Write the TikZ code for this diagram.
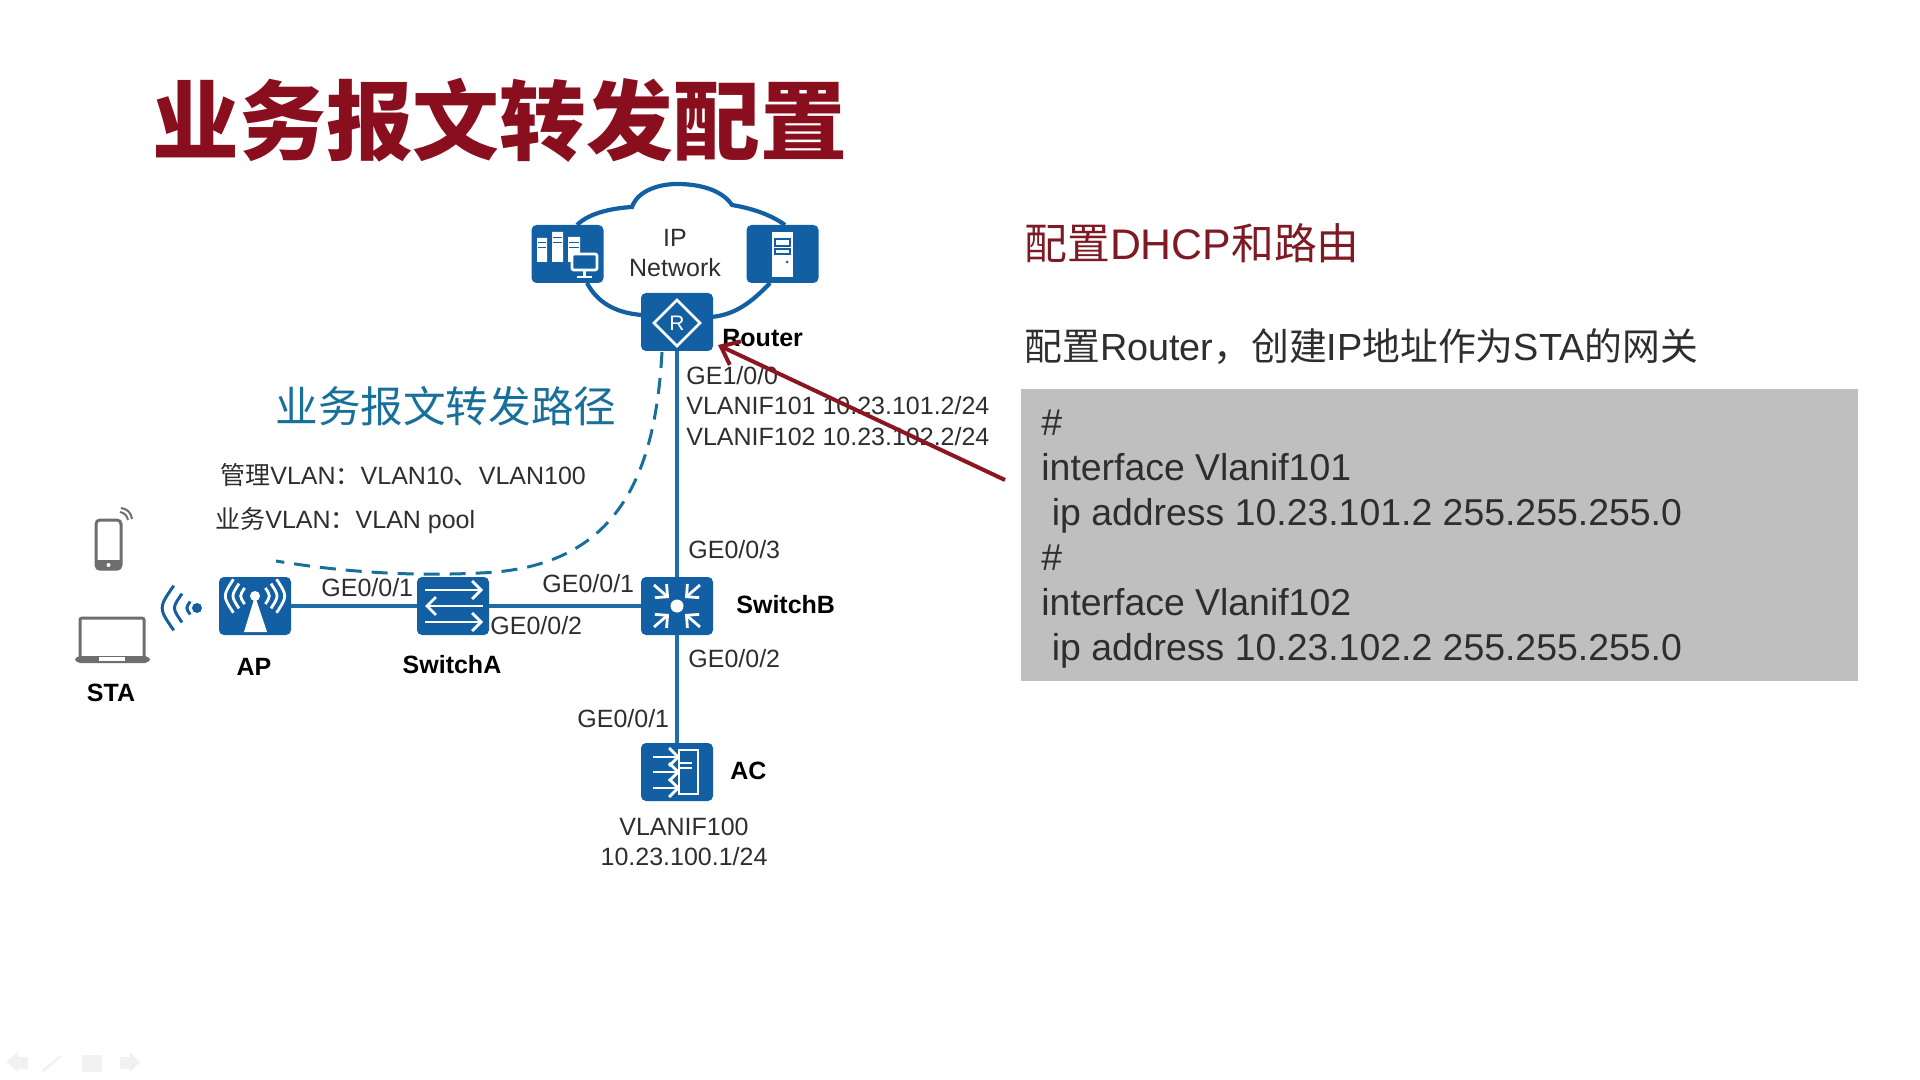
\documentclass[tikz,border=0pt]{standalone}
\usepackage{fontspec}
\setmainfont{Liberation Sans}
\newfontfamily\cjk{Noto Sans CJK SC}
\usepackage{xcolor}
\usepackage{tikz}
\usetikzlibrary{arrows.meta, positioning, fit}
\definecolor{devblue}{HTML}{125FA3}
\definecolor{linkblue}{HTML}{1F6EAA}
\definecolor{pathteal}{HTML}{17709A}
\definecolor{titlered}{HTML}{8A0F1E}
\definecolor{headred}{HTML}{7D1A24}
\definecolor{arrowred}{HTML}{8B1520}
\definecolor{codegrey}{HTML}{BFBFBF}
\definecolor{icongrey}{HTML}{6E6E6E}
\definecolor{textgrey}{HTML}{2E2E2E}
\definecolor{navgrey}{HTML}{F1F1F1}

\begin{document}
\begin{tikzpicture}[x=0.5pt, y=-0.5pt,
    devbox/.style={rectangle, rounded corners=2.5pt, fill=devblue, minimum width=36pt, minimum height=29pt, inner sep=0pt},
    link/.style={draw=linkblue, line width=1.8pt},
    cloudline/.style={draw=devblue, line width=2.1pt},
    whiteline/.style={draw=white, line width=1.4pt},
    whitearrow/.style={whiteline, -{Straight Barb[length=4.5pt, width=9pt]}},
    phoneline/.style={draw=icongrey, line width=1.5pt},
    label/.style={anchor=west, inner sep=0pt, text=textgrey, font=\fontsize{12.5}{15}\selectfont},
    midlabel/.style={label, anchor=center, align=center},
    devlabel/.style={label, text=black, font=\fontsize{12.5}{15}\selectfont\bfseries}
]
\useasboundingbox (0,0) rectangle (1920,1080);

\node[anchor=west, inner sep=0pt, text=titlered, font=\fontsize{43.4}{50}\selectfont\cjk\bfseries] (title) at (152,120) {业务报文转发配置};

\draw[cloudline] (577,225) .. controls (590,212) and (615,208) .. (632,207) .. controls (638,190) and (660,184) .. (677,184) .. controls (700,184) and (722,190) .. (732,205) .. controls (750,208) and (770,214) .. (785,225);
\draw[cloudline] (587,283) .. controls (597,302) and (615,313) .. (642,315);
\draw[cloudline] (711,317) .. controls (735,315) and (752,302) .. (770,283);

\node[devbox] (serverl) at (567.5,254) {};
\node[devbox] (serverr) at (782.5,254) {};
\node[devbox] (router) at (677,322) {};
\node[devbox] (ap) at (255,606) {};
\node[devbox] (switcha) at (453,606) {};
\node[devbox] (switchb) at (677,606) {};
\node[devbox] (ac) at (677,772) {};

\draw[link] (router) -- (switchb);
\draw[link] (ap) -- (switcha);
\draw[link] (switcha) -- (switchb);
\draw[link] (switchb) -- (ac);

\fill[white] (537,238) rectangle (547,262) (552,232) rectangle (563,262) (568,237) rectangle (580,262);
\draw[devblue, line width=0.5pt] (538,243) -- (546,243) (538,248) -- (546,248) (553,238) -- (562,238) (553,243) -- (562,243) (569,243) -- (579,243) (569,248) -- (579,248);
\draw[whiteline, fill=devblue, rounded corners=1pt] (572,254) rectangle (597,270);
\draw[whiteline] (584.5,270) -- (584.5,277) (577,277) -- (592,277);
\fill[white] (772,232) rectangle (793,277);
\draw[devblue, line width=0.8pt] (775,239) rectangle (790,246) (775,249) rectangle (790,254);
\fill[devblue] (787,262) circle[radius=1.5];

\draw[whiteline] (677,300) -- (700,323) -- (677,346) -- (654,323) -- cycle;
\node[inner sep=0pt, text=white, font=\fontsize{10.5}{12}\selectfont] (routerr) at (677,323) {R};

\foreach \d in {13,20,27}{
  \draw[whiteline] ({255-\d*.8},{596-\d*.62}) .. controls ({255-\d*1.2},596) .. ({255-\d*.8},{596+\d*.62});
  \draw[whiteline] ({255+\d*.8},{596-\d*.62}) .. controls ({255+\d*1.2},596) .. ({255+\d*.8},{596+\d*.62});
}
\fill[white] (255,596) circle[radius=5];
\fill[white] (255,596) -- (267,632) -- (244,632) -- cycle;

\fill[devblue] (197,608) circle[radius=5];
\foreach \d in {9,20,31}{
  \draw[devblue, line width=1.5pt] ({197-\d*.75},{608-\d*.72}) .. controls ({197-\d*1.25},608) .. ({197-\d*.75},{608+\d*.72});
}

\draw[whitearrow] (425,590) -- (483,590);
\draw[whitearrow] (483,606) -- (425,606);
\draw[whitearrow] (425,622) -- (483,622);

\fill[white] (677,606) circle[radius=6.5];
\draw[whitearrow] (654,585) -- (669,598);
\draw[whitearrow] (700,585) -- (685,598);
\draw[whitearrow] (654,627) -- (669,614);
\draw[whitearrow] (700,627) -- (685,614);

\draw[whiteline] (679,750) -- (698,750) -- (698,794) -- (679,794) -- cycle;
\draw[whitearrow] (653,757) -- (680,757);
\draw[whitearrow] (653,772) -- (680,772);
\draw[whitearrow] (653,788) -- (680,788);
\draw[whiteline, line width=1pt] (680,763) -- (692,763) (680,768) -- (692,768);

\draw[phoneline, fill=white, rounded corners=2pt] (96,520) rectangle (121,569);
\fill[icongrey, rounded corners=1pt] (96,560) rectangle (121,570);
\fill[white] (108.5,565) circle[radius=2];
\draw[icongrey, line width=1pt] (120,512) .. controls (125,513) and (127,516) .. (128,520);
\draw[icongrey, line width=1pt] (121,508) .. controls (128,509) and (131,513) .. (132,519);

\draw[phoneline, rounded corners=1pt] (80,658) -- (80,618) -- (144,618) -- (144,658);
\fill[icongrey, rounded corners=2.5pt] (75,656) rectangle (150,663);
\fill[white] (99,657) rectangle (125,661);

\node[label] (ge100) at (686,376) {GE1/0/0};
\node[label] (vlanif101) at (686,406) {VLANIF101 10.23.101.2/24};
\node[label] (vlanif102) at (686,437) {VLANIF102 10.23.102.2/24};
\node[midlabel] (ipnet) at (675,253) {IP\\Network};
\node[devlabel] (routername) at (722,338) {Router};
\node[label] (gesb3) at (688,550) {GE0/0/3};
\node[label] (geap) at (321,588) {GE0/0/1};
\node[label] (gesb1) at (542,584) {GE0/0/1};
\node[label] (gesa2) at (490,626) {GE0/0/2};
\node[devlabel] (sbname) at (736,605) {SwitchB};
\node[label] (gesb2) at (688,659) {GE0/0/2};
\node[label] (geac) at (577,719) {GE0/0/1};
\node[devlabel] (acname) at (730,771) {AC};
\node[midlabel] (acip) at (684,842) {VLANIF100\\10.23.100.1/24};
\node[devlabel, anchor=center] (apname) at (254,667) {AP};
\node[devlabel, anchor=center] (saname) at (452,665) {SwitchA};
\node[devlabel, anchor=center] (staname) at (111,693) {STA};

\node[label] (mgmt) at (220,475) {{\cjk 管理}VLAN{\cjk ：}VLAN10{\cjk 、}VLAN100};
\node[label] (svc) at (215,521) {{\cjk 业务}VLAN{\cjk ：}VLAN pool};
\node[anchor=west, inner sep=0pt, text=pathteal, font=\fontsize{21.3}{25}\selectfont\cjk] (pathname) at (275,406) {业务报文转发路径};

\node[anchor=west, inner sep=0pt, text=headred, font=\fontsize{21.4}{26}\selectfont] (dhcphead) at (1024,243) {{\cjk 配置}DHCP{\cjk 和路由}};
\node[anchor=west, inner sep=0pt, text=textgrey, font=\fontsize{18.9}{23}\selectfont] (routerhead) at (1024,347) {{\cjk 配置}Router{\cjk ，创建}IP{\cjk 地址作为}STA{\cjk 的网关}};

\node[anchor=north west, fill=codegrey, minimum width=418.5pt, minimum height=146pt, inner sep=0pt] (codebox) at (1021,389) {};
\node[anchor=west, align=left, inner sep=0pt, text=textgrey, font=\fontsize{18.7}{22.5}\selectfont] (code) at (1041,539) {\#\\interface Vlanif101\\\hspace*{.28em}ip address 10.23.101.2 255.255.255.0\\\#\\interface Vlanif102\\\hspace*{.28em}ip address 10.23.102.2 255.255.255.0};

\coordinate (pathstart) at (662,352);
\coordinate (pathbend) at (480,573);
\coordinate (pathend) at (276,561);
\draw[pathteal, line width=1.5pt, dash pattern=on 8pt off 5pt] (pathstart) .. controls (655,480) and (615,568) .. (pathbend) .. controls (400,577) and (330,570) .. (pathend);

\coordinate (arrowfrom) at (1005,480);
\coordinate (arrowto) at (718,345);
\draw[arrowred, line width=2pt, -{Straight Barb[length=8pt, width=13pt]}] (arrowfrom) -- (arrowto);

\fill[navgrey] (6,1062) -- (18,1052) -- (18,1057) -- (28,1057) -- (28,1069) -- (18,1069) -- (18,1072) -- cycle;
\fill[navgrey] (44,1072) -- (62,1056) -- (59,1056) -- (42,1070) -- cycle;
\fill[navgrey] (82,1055) rectangle (102,1072);
\fill[navgrey] (120,1057) -- (130,1057) -- (130,1052) -- (140,1062) -- (130,1072) -- (130,1069) -- (120,1069) -- cycle;
\end{tikzpicture}
\end{document}
